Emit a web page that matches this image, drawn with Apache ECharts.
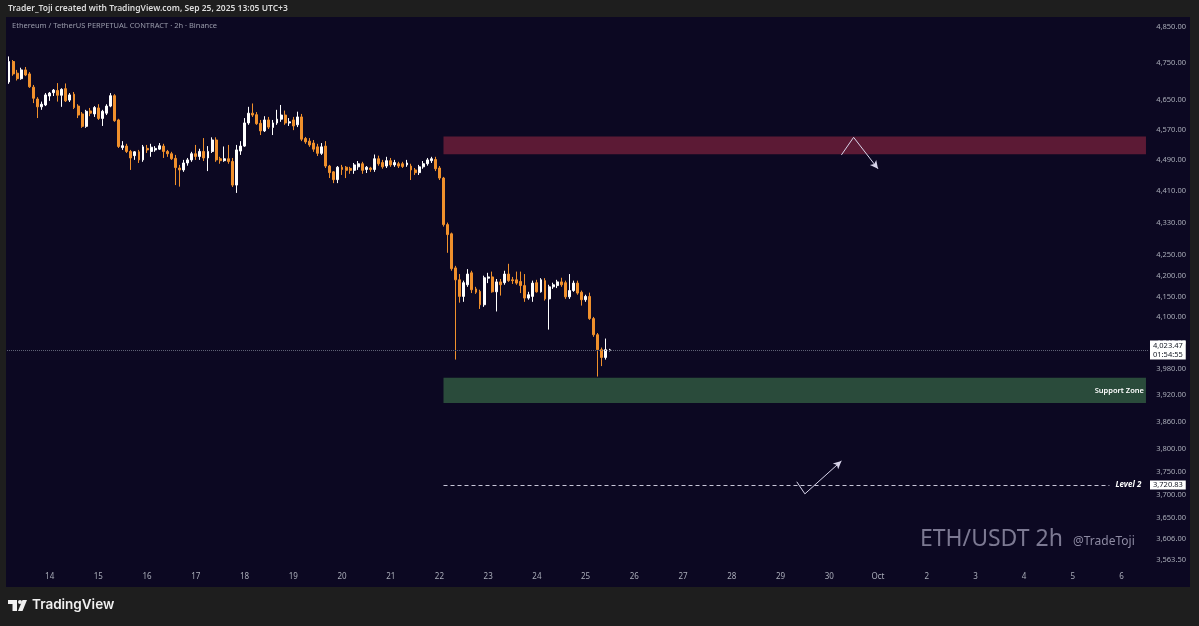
<!DOCTYPE html>
<html>
<head>
<meta charset="utf-8">
<title>ETH/USDT 2h</title>
<script src="https://cdn.jsdelivr.net/npm/echarts@6/dist/echarts.min.js"></script>
<style>
  html, body { margin: 0; padding: 0; background: #1e1e1e; }
  #chart { width: 1199px; height: 626px; }
</style>
</head>
<body>
<div id="chart"></div>
<script>
// 2h bars, first bar Sep 13 04:00, axis runs on into October
const startTime = Date.UTC(2025, 8, 13, 4);
const slotCount = 281;

const opens = [4698,4754,4722,4707,4731,4720,4684,4652,4631,4636,
  4660,4669,4675,4662,4680,4649,4665,4633,4612,4579,
  4620,4612,4628,4600,4614,4633,4661,4596,4523,4527,
  4513,4502,4512,4491,4521,4513,4517,4519,4527,4513,
  4507,4495,4470,4465,4483,4491,4507,4500,4513,4496,
  4513,4543,4494,4489,4494,4487,4426,4514,4527,4588,
  4614,4610,4587,4567,4596,4576,4588,4598,4609,4588,
  4596,4583,4604,4547,4540,4535,4525,4508,4527,4475,
  4460,4440,4472,4472,4469,4464,4473,4481,4466,4470,
  4466,4494,4484,4475,4489,4478,4481,4481,4478,4475,
  4465,4458,4473,4481,4489,4492,4470,4444,4326,4303,
  4219,4190,4150,4178,4207,4168,4162,4130,4194,4197,
  4161,4185,4183,4204,4190,4190,4186,4176,4146,4150,
  4183,4161,4188,4144,4173,4176,4185,4183,4149,4164,
  4182,4160,4142,4150,4097,4059,4024,4006,4023];

const closes = [4754,4720,4707,4731,4717,4685,4654,4631,4638,4663,
  4668,4676,4662,4678,4647,4663,4629,4609,4579,4619,
  4614,4629,4600,4619,4633,4661,4594,4526,4528,4513,
  4496,4512,4491,4525,4517,4524,4521,4528,4513,4507,
  4494,4471,4465,4483,4491,4507,4500,4513,4496,4513,
  4543,4491,4489,4494,4487,4426,4517,4527,4588,4614,
  4609,4586,4567,4596,4577,4588,4598,4609,4588,4591,
  4580,4604,4545,4538,4530,4519,4508,4525,4475,4458,
  4440,4472,4466,4464,4464,4478,4481,4464,4472,4466,
  4494,4481,4473,4489,4478,4484,4475,4474,4483,4465,
  4458,4473,4481,4491,4494,4468,4444,4326,4301,4217,
  4190,4150,4183,4204,4166,4160,4130,4195,4197,4161,
  4185,4178,4204,4188,4188,4182,4176,4146,4154,4182,
  4161,4190,4144,4173,4178,4185,4178,4149,4164,4182,
  4158,4142,4150,4097,4059,4024,4006,4024,4023.47];

const lows = [4693,4715,4702,4704,4714,4682,4641,4601,4623,4633,
  4647,4660,4645,4631,4644,4644,4625,4601,4575,4575,
  4606,4604,4596,4580,4609,4630,4591,4522,4517,4509,
  4465,4491,4483,4486,4509,4499,4512,4517,4496,4499,
  4491,4426,4422,4460,4476,4486,4491,4491,4488,4462,
  4509,4486,4481,4486,4481,4421,4406,4504,4525,4583,
  4604,4583,4556,4564,4572,4556,4583,4591,4583,4580,
  4569,4577,4540,4533,4525,4512,4501,4504,4470,4444,
  4431,4431,4452,4444,4455,4455,4465,4455,4457,4460,
  4460,4476,4468,4470,4473,4473,4470,4470,4473,4439,
  4452,4452,4468,4476,4483,4462,4439,4321,4256,4212,
  4001,4135,4137,4173,4158,4156,4120,4125,4182,4159,
  4114,4152,4178,4185,4180,4178,4158,4137,4142,4137,
  4159,4159,4140,4071,4168,4170,4173,4144,4144,4161,
  4154,4128,4137,4094,4054,3962,3986,4001,4020];

const highs = [4768,4758,4731,4737,4739,4725,4690,4657,4645,4668,
  4671,4679,4695,4681,4694,4668,4671,4638,4617,4623,
  4628,4633,4638,4623,4638,4668,4665,4599,4540,4533,
  4517,4514,4517,4530,4530,4533,4527,4535,4533,4517,
  4512,4504,4478,4491,4496,4512,4530,4520,4548,4527,
  4550,4550,4499,4526,4530,4496,4530,4540,4601,4631,
  4640,4617,4596,4606,4604,4596,4623,4636,4621,4601,
  4604,4618,4612,4551,4548,4543,4533,4535,4540,4478,
  4462,4475,4478,4475,4473,4483,4488,4486,4475,4473,
  4505,4502,4491,4499,4496,4491,4486,4486,4491,4481,
  4470,4478,4488,4496,4499,4499,4475,4447,4331,4306,
  4224,4204,4188,4216,4212,4173,4166,4200,4207,4210,
  4192,4192,4212,4229,4197,4210,4210,4204,4161,4188,
  4190,4194,4194,4178,4183,4190,4195,4188,4204,4188,
  4188,4164,4154,4159,4101,4063,4029,4050,4026];

const yTicks = [4850, 4750, 4650, 4570, 4490, 4410, 4330, 4250, 4200, 4150, 4100,
  4040, 3980, 3920, 3860, 3800, 3750, 3700, 3650, 3606, 3563.5];

const resistanceZone = [4506, 4552];
const supportZone = [3902, 3959];
const zoneStart = '2025-09-22 02:00';
const level2 = 3720.83;
const level2End = '2025-10-05 18:00';
const lastPrice = 4023.47;
const countdown = '01:54:55';
const bearArrow = [['2025-09-30 06:00', 4504], ['2025-09-30 12:00', 4550], ['2025-10-01 00:00', 4468]];
const bullArrow = [['2025-09-29 08:00', 3728], ['2025-09-29 12:00', 3702], ['2025-09-30 06:00', 3773]];

function pad(n) { return n < 10 ? '0' + n : '' + n; }
const slots = [];
for (let i = 0; i < slotCount; i++) {
  const d = new Date(startTime + i * 7200000);
  slots.push(d.getUTCFullYear() + '-' + pad(d.getUTCMonth() + 1) + '-' + pad(d.getUTCDate()) +
    ' ' + pad(d.getUTCHours()) + ':00');
}
const candles = opens.map((o, i) => [o, closes[i], lows[i], highs[i]]);
const money = v => Number(v).toLocaleString('en-US', { minimumFractionDigits: 2, maximumFractionDigits: 2 });

const upColor = '#ffffff';
const downColor = '#f0902c';
const textGray = '#a9acb8';

function arrowLines(pts) {
  return [
    [{ coord: pts[0], symbol: 'none' }, { coord: pts[1], symbol: 'none' }],
    [{ coord: pts[1], symbol: 'none' }, { coord: pts[2], symbol: 'arrow', symbolSize: [6, 8] }]
  ];
}

const chart = echarts.init(document.getElementById('chart'));
const option = {
  backgroundColor: '#1e1e1e',
  animation: false,
  textStyle: { fontFamily: 'Noto Sans, sans-serif' },
  title: [
    { text: 'Trader_Toji created with TradingView.com, Sep 25, 2025 13:05 UTC+3', left: 8, top: 4, padding: 0,
      textStyle: { color: '#dcdcdc', fontSize: 8.5, fontWeight: 600 } },
    { text: 'Ethereum / TetherUS PERPETUAL CONTRACT · 2h · Binance', left: 12, top: 22, padding: 0,
      textStyle: { color: '#9a9cab', fontSize: 7.5, fontWeight: 'normal' } },
    { text: 'ETH/USDT 2h', left: 920, top: 528, padding: 0,
      textStyle: { color: '#7c7992', fontSize: 23, fontWeight: 'normal' } },
    { text: '@TradeToji', left: 1073, top: 536, padding: 0,
      textStyle: { color: '#8d8aa2', fontSize: 12, fontWeight: 'normal' } }
  ],
  graphic: [
    { type: 'rect', z: -100, silent: true, shape: { x: 6, y: 17, width: 1184, height: 570 },
      style: { fill: '#0c0822' } },
    // TradingView logo
    { type: 'rect', silent: true, shape: { x: 8, y: 600, width: 9, height: 4 }, style: { fill: '#f0f0f0' } },
    { type: 'rect', silent: true, shape: { x: 12.5, y: 600, width: 4.5, height: 11 }, style: { fill: '#f0f0f0' } },
    { type: 'circle', silent: true, shape: { cx: 20, cy: 602, r: 2 }, style: { fill: '#f0f0f0' } },
    { type: 'polygon', silent: true, shape: { points: [[22.5, 600], [27, 600], [22.5, 611], [18, 611]] }, style: { fill: '#f0f0f0' } },
    { type: 'text', silent: true, left: 32, top: 598,
      style: { text: 'TradingView', fill: '#f0f0f0', fontSize: 13.5, fontWeight: 600, fontFamily: 'Inter, sans-serif' } }
  ],
  grid: { left: 7, right: 51, top: 17, bottom: 58, containLabel: false },
  xAxis: {
    type: 'category',
    data: slots,
    boundaryGap: true,
    axisLine: { show: false },
    axisTick: { show: false },
    splitLine: { show: false },
    axisLabel: {
      color: textGray,
      fontSize: 8,
      margin: 5,
      interval: (i, v) => v.endsWith('00:00'),
      formatter: v => {
        const day = parseInt(v.slice(8, 10), 10);
        return day === 1 ? 'Oct' : String(day);
      }
    }
  },
  yAxis: {
    type: 'log',
    logBase: 10,
    position: 'right',
    min: 3546.6,
    max: 4878,
    axisLine: { show: false },
    axisTick: { show: false },
    splitLine: { show: false },
    axisLabel: {
      customValues: yTicks,
      formatter: v => money(v),
      color: textGray,
      fontSize: 7.5,
      align: 'right',
      margin: 38
    }
  },
  series: [{
    type: 'candlestick',
    data: candles,
    barWidth: 2.4,
    itemStyle: {
      color: upColor, color0: downColor,
      borderColor: upColor, borderColor0: downColor,
      borderWidth: 1
    },
    markArea: {
      silent: true,
      data: [
        [{ xAxis: zoneStart, yAxis: resistanceZone[1], itemStyle: { color: '#5c1a35' } },
         { xAxis: slots[slots.length - 1], yAxis: resistanceZone[0] }],
        [{ xAxis: zoneStart, yAxis: supportZone[1], itemStyle: { color: '#2a4b3b' },
           label: { show: true, position: 'insideRight', formatter: 'Support Zone', color: '#ffffff',
                    fontSize: 7.5, fontWeight: 600, distance: 2 } },
         { xAxis: slots[slots.length - 1], yAxis: supportZone[0] }]
      ]
    },
    markLine: {
      silent: true,
      symbol: 'none',
      label: { show: false },
      data: [
        { yAxis: lastPrice, lineStyle: { color: '#5f6275', type: 'dotted', width: 1 },
          label: { show: true, position: 'end', distance: 2, formatter: money(lastPrice) + '\n' + countdown,
                   backgroundColor: '#ffffff', color: '#131722', fontSize: 7.5, lineHeight: 9,
                   padding: [1, 3, 0, 3] } },
        [{ xAxis: zoneStart, yAxis: level2, lineStyle: { color: '#c8c6d8', type: [4, 3], width: 1 },
           label: { show: true, position: 'end', distance: 6, formatter: 'Level 2', color: '#ffffff',
                    fontSize: 8, fontStyle: 'italic', fontWeight: 'bold' } },
         { xAxis: level2End, yAxis: level2 }],
        { yAxis: level2, lineStyle: { color: 'rgba(0,0,0,0)', width: 0 },
          label: { show: true, position: 'end', distance: 2, formatter: money(level2),
                   backgroundColor: '#ffffff', color: '#131722', fontSize: 7.5, padding: [1, 3, 0, 3] } }
      ].concat(arrowLines(bearArrow), arrowLines(bullArrow)).map(d => {
        if (Array.isArray(d) && !d[0].lineStyle) d[0].lineStyle = { color: '#d8d4ea', width: 1, type: 'solid' };
        return d;
      })
    }
  }]
};
chart.setOption(option);
window.onresize = function () { chart.resize(); };
</script>
</body>
</html>
